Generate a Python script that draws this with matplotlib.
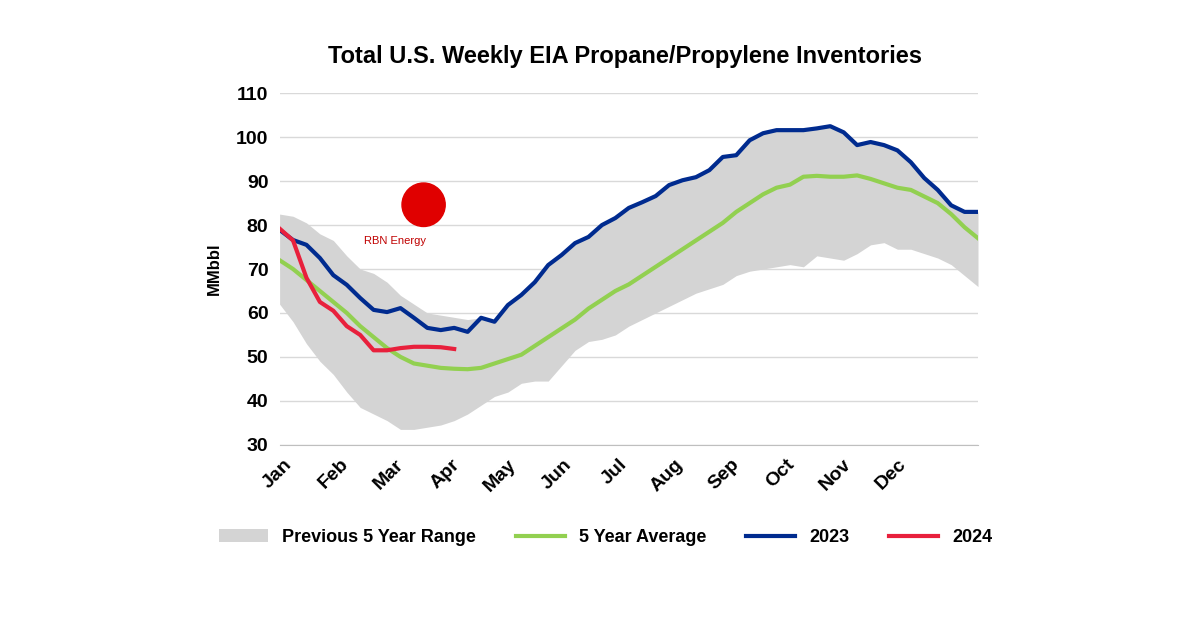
import matplotlib
matplotlib.use("Agg")
import matplotlib.pyplot as plt
from matplotlib.patches import Ellipse
import numpy as np

plt.rcParams['font.family'] = ['Liberation Sans', 'DejaVu Sans']

months = ["Jan","Feb","Mar","Apr","May","Jun","Jul","Aug","Sep","Oct","Nov","Dec"]
s2023 = [78.9,76.6,75.5,72.5,68.6,66.4,63.4,60.7,60.2,61.1,58.9,56.6,56.1,56.6,55.7,58.9,58.0,61.8,64.1,67.0,
         70.9,73.2,75.9,77.3,80,81.6,83.9,85.2,86.6,89.1,90.2,90.9,92.5,95.5,95.9,99.3,100.9,101.6,101.6,101.6,
         102,102.5,101.1,98.2,98.9,98.2,97,94.3,90.7,88,84.5,83,83]
s2024 = [79.2,76.5,68,62.5,60.5,57,55,51.5,51.5,52,52.3,52.3,52.2,51.8]
avg5 = [72,70,67.5,65,62.5,60,57,54.5,52,50,48.5,48,47.5,47.3,47.2,47.5,48.5,49.5,50.5,52.5,
        54.5,56.5,58.5,61,63,65,66.5,68.5,70.5,72.5,74.5,76.5,78.5,80.5,83,85,87,88.5,89.2,91,
        91.2,91,91,91.3,90.5,89.5,88.5,88,86.5,85,82.5,79.5,77]
upper5 = [82.5,82,80.5,78,76.5,73,70,69,67,64,62,60,59.5,59,58.5,58.9,58.0,61.8,64.1,67.0,
          70.9,73.2,75.9,77.3,80,81.6,83.9,85.2,86.6,89.1,90.2,90.9,92.5,95.5,95.9,99.3,100.9,101.6,101.6,101.6,
          102,102.5,101.1,98.2,98.9,98.2,97,94.3,90.7,88,84.5,83,83]
lower5 = [62,58,53,49,46,42,38.5,37,35.5,33.5,33.5,34,34.5,35.5,37,39,41,42,44,44.5,
          44.5,48,51.5,53.5,54,55,57,58.5,60,61.5,63,64.5,65.5,66.5,68.5,69.5,70,70.5,71,70.5,
          73,72.5,72,73.5,75.5,76,74.5,74.5,73.5,72.5,71,68.5,66]

fig = plt.figure(figsize=(12, 6.3), dpi=100)
ax = fig.add_axes([0.233, 0.294, 0.582, 0.558])
wk = np.arange(len(upper5))
ax.fill_between(wk, lower5, upper5, color="#d4d4d4", lw=0, label="Previous 5 Year Range")
ax.plot(np.arange(len(avg5)), avg5, color="#92d050", lw=3, label="5 Year Average")
ax.plot(np.arange(len(s2023)), s2023, color="#002b8f", lw=3, label="2023")
ax.plot(np.arange(len(s2024)), s2024, color="#e8203c", lw=3, label="2024")

ax.set_xlim(0, 52)
ax.set_ylim(30, 110)
ax.set_yticks(range(30, 111, 10))
ax.yaxis.grid(True, color="#d9d9d9", lw=1)
ax.set_axisbelow(True)
for s in ["top", "right", "left"]:
    ax.spines[s].set_visible(False)
ax.spines["bottom"].set_color("#bfbfbf")
ax.tick_params(length=0, labelsize=14, pad=8)
ax.set_xticks(np.arange(12) * 52 / 12.5 + 0.3)
ax.set_xticklabels(months, rotation=45, ha="right", rotation_mode="anchor", fontweight="bold", fontsize=14)
for t in ax.get_yticklabels():
    t.set_fontweight("bold")
ax.set_ylabel("MMbbl", fontweight="bold", fontsize=12, labelpad=10)
fig.text(0.521, 0.9, "Total U.S. Weekly EIA Propane/Propylene Inventories", ha="center", fontsize=17, fontweight="bold")

# logo
fig.patches.append(Ellipse((0.353, 0.675), 0.036, 0.069, transform=fig.transFigure, color="#e00000"))
fig.text(0.303, 0.613, "RBN Energy", color="#c00000", fontsize=8)

fig.legend(loc="center", bbox_to_anchor=(0.505, 0.147), ncol=4, frameon=False,
           prop={"weight": "bold", "size": 13}, handlelength=2.7, columnspacing=2.2, handletextpad=0.8)
fig.savefig("out.png")
